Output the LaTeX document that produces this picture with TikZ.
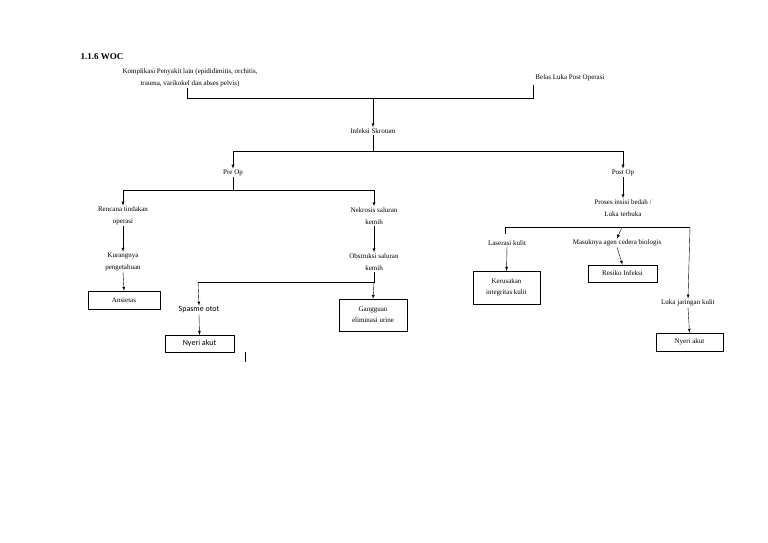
\documentclass[tikz,border=0pt]{standalone}
\usepackage{fontspec}
\setmainfont{Liberation Serif}
\newfontfamily\carlitof{Carlito}
\begin{document}
\begin{tikzpicture}[x=1pt,y=-1pt,
  lbl/.style={font=\fontsize{7}{12}\selectfont,align=center,inner sep=1pt},
  bx/.style={draw,font=\fontsize{7}{11}\selectfont,align=center,inner sep=1pt},
  arr/.style={-latex,thin},
  ln/.style={thin}]
\useasboundingbox (0,0) rectangle (768,543);
\node[font=\bfseries\fontsize{9}{11}\selectfont,anchor=west] (t) at (77,57) {1.1.6 WOC};
\node[lbl] (kom) at (190,78) {Komplikasi Penyakit lain (epididimitis, orchitis,\\trauma, varikokel dan abses pelvis)};
\node[lbl] (bel) at (570,78) {Belas Luka Post Operasi};
\coordinate (b1) at (187,88); \coordinate (b2) at (187,98);
\coordinate (b3) at (533,85); \coordinate (b4) at (533,98);
\coordinate (bm) at (373,98);
\draw[ln] (b1) -- (b2) -- (b4) -- (b3);
\node[lbl] (inf) at (373,131) {Infeksi Skrotum};
\draw[arr] (bm) -- (inf.north);
\coordinate (i1) at (373,151); \coordinate (pl) at (233,151); \coordinate (pr) at (623,151);
\draw[ln] (inf.south) -- (i1);
\draw[ln] (pl) -- (pr);
\node[lbl] (pre) at (233,173) {Pre Op};
\node[lbl] (post) at (623,173) {Post Op};
\draw[arr] (pl) -- (pre.north);
\draw[arr] (pr) -- (post.north);
% Pre op
\coordinate (q1) at (233,190); \coordinate (ql) at (123,190); \coordinate (qr) at (374,190);
\draw[ln] (pre.south) -- (q1); \draw[ln] (ql) -- (qr);
\node[lbl] (ren) at (123,216) {Rencana tindakan\\operasi};
\node[lbl] (kur) at (123,262) {Kurangnya\\pengetahuan};
\node[bx,minimum width=72pt,minimum height=18pt] (ans) at (124,300) {Ansietas};
\draw[arr] (ql) -- (ren.north);
\draw[arr] (ren.south) -- (kur.north);
\draw[arr] (kur.south) -- (ans.north);
\node[lbl] (nek) at (374,216) {Nekrosis saluran\\kemih};
\node[lbl] (obs) at (374,262) {Obstruksi saluran\\kemih};
\draw[arr] (qr) -- (nek.north);
\draw[arr] (nek.south) -- (obs.north);
\coordinate (o1) at (374,282); \coordinate (ol) at (198,282);
\draw[ln] (obs.south) -- (o1) -- (ol);
\node[lbl,font=\carlitof\fontsize{8}{10}\selectfont] (spa) at (199,310) {Spasme otot};
\node[bx,font=\carlitof\fontsize{8}{10}\selectfont,minimum width=69pt,minimum height=17pt] (ny1) at (199.5,343.5) {Nyeri akut};
\node[bx,minimum width=68pt,minimum height=32pt] (gan) at (373,315) {Gangguan\\eliminasi urine};
\draw[arr] (ol) -- (spa.north);
\draw[arr] (o1) -- (gan.north);
\draw[arr] (spa.south) -- (ny1.north);
\coordinate (s1) at (245,352); \coordinate (s2) at (245,362);
\draw[ln] (s1) -- (s2);
% Post op
\node[lbl] (pro) at (623,208) {Proses insisi bedah /\\Luka terbuka};
\draw[arr] (post.south) -- (pro.north);
\coordinate (r1) at (505,227); \coordinate (r2) at (622,227); \coordinate (r3) at (690,227);
\coordinate (r1e) at (505,234);
\draw[ln] (r1) -- (r3);
\node[lbl] (las) at (507,243) {Laserasi kulit};
\node[lbl] (mas) at (617,243) {Masuknya agen cedera biologis};
\node[lbl] (luk) at (688,303) {Luka jaringan kulit};
\draw[ln] (r1) -- (r1e);
\draw[arr] (r2) -- (mas.north);
\draw[arr] (r3) -- (luk.north);
\node[bx,minimum width=67pt,minimum height=33pt] (ker) at (506.5,287.5) {Kerusakan\\integritas kulit};
\node[bx,minimum width=69pt,minimum height=17pt] (res) at (622.5,273.5) {Resiko Infeksi};
\node[bx,minimum width=67pt,minimum height=18pt] (ny2) at (689.5,342) {Nyeri akut};
\draw[arr] (las.south) -- (ker.north);
\draw[arr] (mas.south) -- (res.north);
\draw[arr] (luk.south) -- (ny2.north);
\end{tikzpicture}
\end{document}
